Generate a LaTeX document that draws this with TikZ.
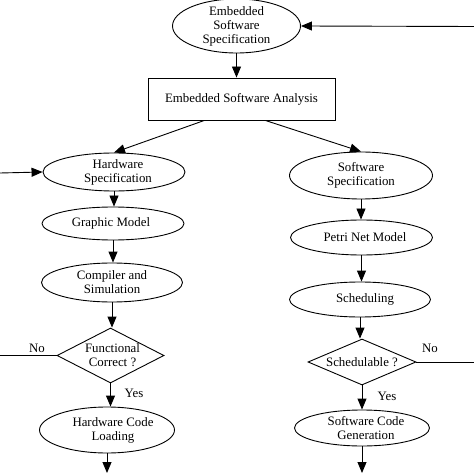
\documentclass[tikz,border=0pt]{standalone}
\usepackage{fontspec}
\setmainfont{Liberation Serif}
\usetikzlibrary{shapes.geometric,arrows.meta}
\begin{document}
\begin{tikzpicture}[x=1bp,y=-1bp,
  line width=0.9bp,
  every label/.style={align=center,font=\fontsize{12.9}{14}\selectfont,inner sep=0pt},
  ell/.style={ellipse,draw,inner sep=0pt},
  dia/.style={diamond,draw,inner sep=0pt},
  box/.style={rectangle,draw,inner sep=0pt},
  txt/.style={font=\fontsize{12.9}{14}\selectfont,inner sep=0pt},
  arr/.style={-{Triangle[length=11bp,width=9bp]}}]
\useasboundingbox (0,0) rectangle (474,474);
% top
\node[ell,minimum width=128bp,minimum height=54bp,label={center:Embedded\\Software\\Specification}] (ess) at (236.5,26) {};
\node[box,minimum width=187bp,minimum height=42bp,label={center:Embedded Software Analysis}] (esa) at (241.5,99) {};
% left column
\node[ell,minimum width=142bp,minimum height=38bp,label={[xshift=4bp]center:Hardware\\Specification}] (hs) at (114,172) {};
\node[ell,minimum width=142bp,minimum height=33bp,label={[xshift=-2bp]center:Graphic Model}] (gm) at (113,223.5) {};
\node[ell,minimum width=141bp,minimum height=39bp,label={center:Compiler and\\Simulation}] (cs) at (112,282.5) {};
\node[dia,minimum width=107bp,minimum height=55bp,label={[xshift=2bp]center:Functional\\Correct ?}] (fc) at (110.5,355.5) {};
\node[ell,minimum width=135bp,minimum height=46bp,label={[xshift=6bp]center:Hardware Code\\Loading}] (hcl) at (107,430) {};
% right column
\node[ell,minimum width=143bp,minimum height=47bp,label={center:Software\\Specification}] (ss) at (361,175.5) {};
\node[ell,minimum width=142bp,minimum height=35bp,label={[xshift=3.5bp]center:Petri Net Model}] (pn) at (361.5,237.5) {};
\node[ell,minimum width=141bp,minimum height=35bp,label={[xshift=5bp]center:Scheduling}] (sch) at (360,299.5) {};
\node[dia,minimum width=108bp,minimum height=46bp,label={center:Schedulable ?}] (sd) at (362,362) {};
\node[ell,minimum width=135bp,minimum height=36bp,label={[xshift=4bp]center:Software Code\\Generation}] (scg) at (362,428) {};
% free ends
\coordinate (rin) at (474,26.5);
\coordinate (lin) at (0,173);
\coordinate (lno) at (0,355.5);
\coordinate (rno) at (474,362);
\coordinate (hbot) at (107,473);
\coordinate (sbot) at (362,473);
% connectors
\draw[arr] (rin) -- (ess.east);
\draw[arr] (ess.south) -- (ess.south |- esa.north);
\draw[arr] (esa.210) -- (hs.north);
\draw[arr] (esa.-42) -- (ss.north);
\draw[arr] (lin) -- (hs.west);
\draw[arr] (hs.south) -- (hs.south |- gm.north);
\draw[arr] (gm.south) -- (gm.south |- cs.north);
\draw[arr] (cs.south) -- (cs.south |- fc.north);
\draw[arr] (fc.south) -- (fc.south |- hcl.north);
\draw[arr] (hcl.south) -- (hbot);
\draw (fc.west) -- (lno);
\draw[arr] (ss.south) -- (ss.south |- pn.north);
\draw[arr] (pn.south) -- (pn.south |- sch.north);
\draw[arr] (sch.south) -- (sch.south |- sd.north);
\draw[arr] (sd.south) -- (sd.south |- scg.north);
\draw[arr] (scg.south) -- (sbot);
\draw (sd.east) -- (rno);
% labels
\node[txt] (no1) at (37,348) {No};
\node[txt] (no2) at (430,348) {No};
\node[txt] (yes1) at (134,393) {Yes};
\node[txt] (yes2) at (387,396) {Yes};
\end{tikzpicture}
\end{document}
